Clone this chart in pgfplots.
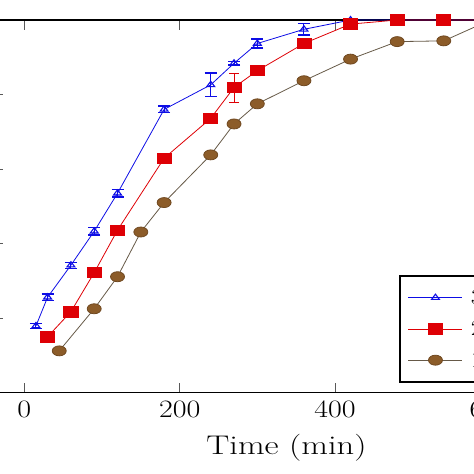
\documentclass[border=0pt]{standalone}
\usepackage{fontspec}
\setmainfont{Latin Modern Roman}[FakeStretch=1.2]
\newfontfamily\labelfont{Latin Modern Roman}[FakeStretch=1.28]
\usepackage{pgfplots}
\usepackage{pgfplotstable}
\pgfplotsset{compat=1.18}
\definecolor{myblue}{rgb}{0.05,0.05,0.9}
\definecolor{myred}{rgb}{0.87,0,0.02}
\definecolor{mybrown}{rgb}{0.55,0.36,0.16}
\definecolor{mybrownline}{rgb}{0.40,0.35,0.28}

\pgfplotstableread{
x y e
15 17.9 0.7
30 25.6 0.9
60 34.2 0.8
90 43.3 1.0
120 53.5 1.0
180 76.0 0.9
240 82.6 3.2
270 88.4 0.5
300 93.7 1.2
360 97.5 1.5
420 100 0
480 100 0
540 100 0
600 100 0
}\bluedata

\pgfplotstableread{
x y e
30 15.0 0.5
60 21.7 0.5
90 32.2 0.6
120 43.6 0.6
180 62.9 0.6
240 73.6 0.7
270 81.9 3.9
300 86.4 0.6
360 93.7 0.5
420 98.9 0.4
480 100 0
540 100 0
600 100 0
}\reddata

\pgfplotstableread{
x y e
45 11.2 0.5
90 22.5 0.5
120 31.1 0.5
150 43.1 0.5
180 51.0 0.5
240 63.8 0.5
270 72.1 0.5
300 77.5 0.5
360 83.7 0.5
420 89.5 0.5
480 94.2 0.5
540 94.4 0.5
600 100 0
}\browndata

\begin{document}
\begin{tikzpicture}
\path[use as bounding box, clip] (6.77pt,-81.4pt) rectangle (480.77pt,392.6pt);
\begin{axis}[
  x=0.7768pt, y=3.726pt,
  xmin=-40, xmax=715, ymin=0, ymax=100,
  xtick={0,200,400,600}, ytick={0,20,40,60,80,100},
  major tick length=10pt,
  tick style={line width=0.8pt, black!65},
  axis line style={line width=1.5pt},
  /pgf/number format/assume math mode=true,
  tick label style={font=\fontsize{25}{30}\selectfont},
  xticklabel style={yshift=-5pt},
  label style={font=\labelfont\fontsize{27}{32}\selectfont},
  xlabel={Time (min)},
  xlabel style={yshift=-9pt},
  legend style={at={(axis description cs:0.6924,0.3156)}, anchor=north west,
    draw=black, line width=1.5pt, font=\fontsize{22}{26}\selectfont,
    inner xsep=8pt, inner ysep=11.5pt, row sep=10.5pt, column sep=6pt},
  legend cell align=left,
  legend image code/.code={\draw[mark repeat=2,mark phase=2] plot coordinates {(0pt,0pt)(27pt,0pt)(54pt,0pt)};},
]
\addplot[color=myblue, line width=0.8pt, mark=triangle, mark size=3.5pt,
  mark options={solid, line width=1.1pt, xscale=1.3},
  error bars/.cd, y dir=both, y explicit,
  error bar style={line width=1pt, myblue},
  error mark options={rotate=90, mark size=6pt, line width=1.3pt, myblue}]
  table[x=x, y=y, y error=e] {\bluedata};
\addlegendentry{3 h}
\addplot[color=myred, line width=0.8pt, mark=square*, mark size=5.2pt,
  mark options={solid, xscale=1.35, fill=myred},
  error bars/.cd, y dir=both, y explicit,
  error bar style={line width=0.8pt, myred},
  error mark options={rotate=90, mark size=5pt, line width=0.8pt, myred}]
  table[x=x, y=y, y error=e] {\reddata};
\addlegendentry{2 h}
\addplot[color=mybrownline, line width=0.8pt, mark=*, mark size=5pt,
  mark options={solid, xscale=1.4, fill=mybrown, draw=mybrown!80!black},
  error bars/.cd, y dir=both, y explicit,
  error bar style={line width=0.8pt, mybrown},
  error mark options={rotate=90, mark size=4pt, line width=0.8pt, mybrown}]
  table[x=x, y=y, y error=e] {\browndata};
\addlegendentry{1 h}
\end{axis}
\end{tikzpicture}
\end{document}
